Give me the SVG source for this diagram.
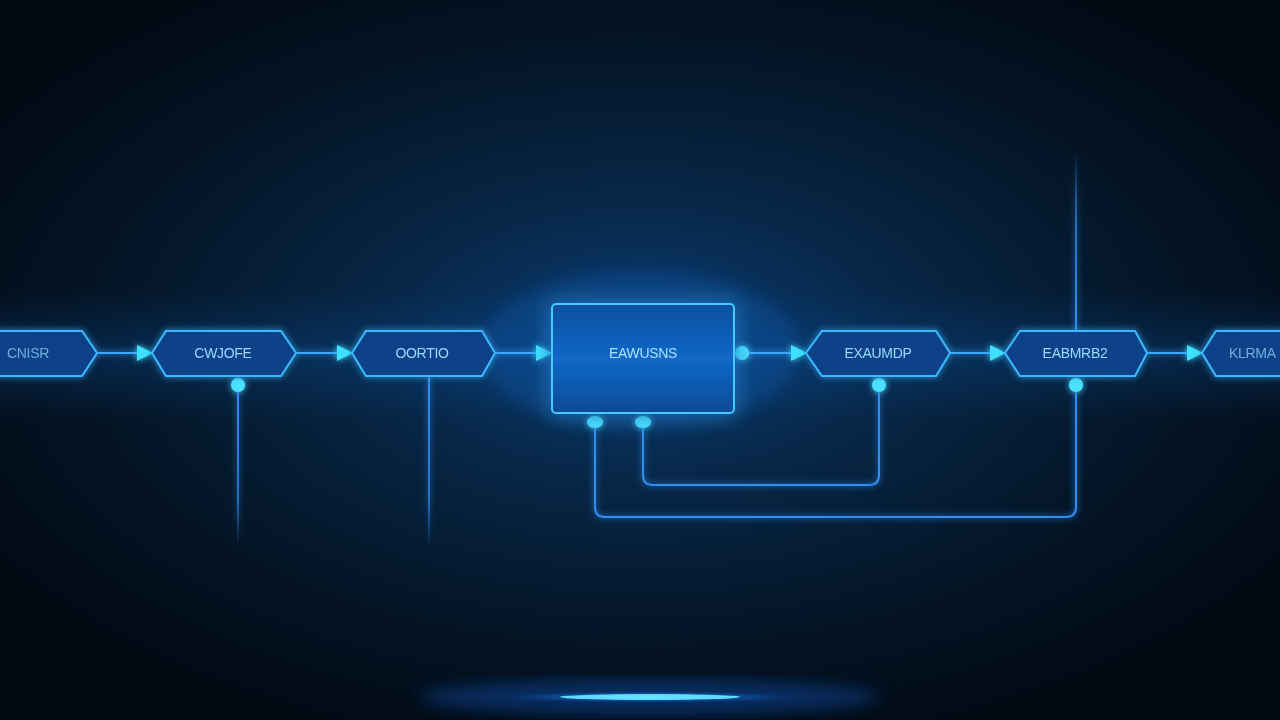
<svg xmlns="http://www.w3.org/2000/svg" width="1280" height="720" viewBox="0 0 1280 720">
<defs>
<radialGradient id="bg" cx="640" cy="340" r="760" gradientUnits="userSpaceOnUse" gradientTransform="translate(640 340) scale(1 0.55) translate(-640 -340)">
<stop offset="0" stop-color="#0b3d74"/>
<stop offset="0.35" stop-color="#072646"/>
<stop offset="0.7" stop-color="#041527"/>
<stop offset="1" stop-color="#020a14"/>
</radialGradient>
<linearGradient id="band" x1="0" y1="0" x2="0" y2="1">
<stop offset="0" stop-color="#0a4a90" stop-opacity="0"/>
<stop offset="0.5" stop-color="#0a4a90" stop-opacity="0.35"/>
<stop offset="1" stop-color="#0a4a90" stop-opacity="0"/>
</linearGradient>
<linearGradient id="rectFill" x1="0" y1="0" x2="0" y2="1">
<stop offset="0" stop-color="#0b4f9e"/>
<stop offset="0.5" stop-color="#1268c8"/>
<stop offset="1" stop-color="#0a4a96"/>
</linearGradient>
<linearGradient id="fade2" gradientUnits="userSpaceOnUse" x1="0" y1="385" x2="0" y2="545">
<stop offset="0" stop-color="#2f8ff0" stop-opacity="1"/>
<stop offset="0.7" stop-color="#2f8ff0" stop-opacity="0.7"/>
<stop offset="1" stop-color="#2f8ff0" stop-opacity="0"/>
</linearGradient>
<linearGradient id="fade3" gradientUnits="userSpaceOnUse" x1="0" y1="376" x2="0" y2="548">
<stop offset="0" stop-color="#2f8ff0" stop-opacity="1"/>
<stop offset="0.7" stop-color="#2f8ff0" stop-opacity="0.7"/>
<stop offset="1" stop-color="#2f8ff0" stop-opacity="0"/>
</linearGradient>
<linearGradient id="fadeUp" gradientUnits="userSpaceOnUse" x1="0" y1="331" x2="0" y2="150">
<stop offset="0" stop-color="#2f8ff0" stop-opacity="1"/>
<stop offset="0.6" stop-color="#2f8ff0" stop-opacity="0.7"/>
<stop offset="1" stop-color="#2f8ff0" stop-opacity="0"/>
</linearGradient>
<radialGradient id="floor" cx="0.5" cy="0.5" r="0.5">
<stop offset="0" stop-color="#3ad0ff" stop-opacity="1"/>
<stop offset="0.4" stop-color="#1a90ff" stop-opacity="0.6"/>
<stop offset="1" stop-color="#0a50c0" stop-opacity="0"/>
</radialGradient>
<filter id="glow" x="-50%" y="-50%" width="200%" height="200%">
<feGaussianBlur stdDeviation="3" result="b"/>
<feMerge><feMergeNode in="b"/><feMergeNode in="SourceGraphic"/></feMerge>
</filter>
<filter id="bigglow" x="-50%" y="-50%" width="200%" height="200%">
<feGaussianBlur stdDeviation="10" result="b"/>
<feMerge><feMergeNode in="b"/><feMergeNode in="SourceGraphic"/></feMerge>
</filter>
<filter id="blur8"><feGaussianBlur stdDeviation="8"/></filter>
<marker id="arr" markerWidth="16" markerHeight="16" refX="15" refY="8" orient="auto" markerUnits="userSpaceOnUse">
<path d="M0,0 L16,8 L0,16 Z" fill="#3ee0ff"/>
</marker>
<style>
.hex{fill:#0c4388;stroke:#3cb8ff;stroke-width:2;}
.lbl{font-family:"Liberation Sans",Arial,sans-serif;font-size:14px;fill:#9ad8ff;text-anchor:middle;dominant-baseline:central;letter-spacing:-0.3px;}
.flow{stroke:#3aa8ff;stroke-width:2;fill:none;}
.wire{stroke:#2f8ff0;stroke-width:2;fill:none;}
.dot{fill:#4ae0ff;}
</style>
</defs>
<rect width="1280" height="720" fill="url(#bg)"/>
<rect x="0" y="290" width="1280" height="130" fill="url(#band)"/>
<ellipse cx="640" cy="350" rx="160" ry="80" fill="#0d5ab0" opacity="0.35" filter="url(#blur8)"/>

<g id="connectors" filter="url(#glow)">
<line class="flow" x1="97" y1="353" x2="152" y2="353" marker-end="url(#arr)"/>
<line class="flow" x1="296" y1="353" x2="352" y2="353" marker-end="url(#arr)"/>
<line class="flow" x1="495" y1="353" x2="551" y2="353" marker-end="url(#arr)"/>
<line class="flow" x1="742" y1="353" x2="806" y2="353" marker-end="url(#arr)"/>
<line class="flow" x1="950" y1="353" x2="1005" y2="353" marker-end="url(#arr)"/>
<line class="flow" x1="1147" y1="353" x2="1202" y2="353" marker-end="url(#arr)"/>
<circle class="dot" cx="742" cy="353" r="7"/>
<path d="M238,385 V545" stroke="url(#fade2)" stroke-width="2" fill="none"/>
<path d="M429,376 V548" stroke="url(#fade3)" stroke-width="2" fill="none"/>
<path d="M1076,150 V331" stroke="url(#fadeUp)" stroke-width="2" fill="none"/>
<path class="wire" d="M879,385 V475 Q879,485 869,485 H653 Q643,485 643,475 V422"/>
<path class="wire" d="M1076,385 V507 Q1076,517 1066,517 H605 Q595,517 595,507 V422"/>
<circle class="dot" cx="238" cy="385" r="7"/>
<circle class="dot" cx="879" cy="385" r="7"/>
<circle class="dot" cx="1076" cy="385" r="7"/>
<ellipse class="dot" cx="595" cy="422" rx="8" ry="6"/>
<ellipse class="dot" cx="643" cy="422" rx="8" ry="6"/>
</g>

<g id="node1" filter="url(#glow)">
<polygon class="hex" points="-20,331 82,331 97,353 82,376 -20,376"/>
<text class="lbl" x="28" y="353" fill-opacity="0.7">CNISR</text>
</g>
<g id="node2" filter="url(#glow)">
<polygon class="hex" points="152,353 166,331 281,331 296,353 281,376 166,376"/>
<text class="lbl" x="223" y="353">CWJOFE</text>
</g>
<g id="node3" filter="url(#glow)">
<polygon class="hex" points="352,353 366,331 482,331 495,353 482,376 366,376"/>
<text class="lbl" x="422" y="353">OORTIO</text>
</g>
<g id="node4" filter="url(#bigglow)">
<rect x="552" y="304" width="182" height="109" rx="4" fill="url(#rectFill)" stroke="#46c8ff" stroke-width="2"/>
<text class="lbl" x="643" y="353" style="fill:#a8e0ff">EAWUSNS</text>
</g>
<g id="node5" filter="url(#glow)">
<polygon class="hex" points="806,353 822,331 936,331 950,353 936,376 822,376"/>
<text class="lbl" x="878" y="353">EXAUMDP</text>
</g>
<g id="node6" filter="url(#glow)">
<polygon class="hex" points="1005,353 1020,331 1135,331 1147,353 1135,376 1020,376"/>
<text class="lbl" x="1075" y="353">EABMRB2</text>
</g>
<g id="node7" filter="url(#glow)">
<polygon class="hex" points="1202,353 1216,331 1300,331 1300,376 1216,376"/>
<text class="lbl" x="1229" y="353" style="text-anchor:start" fill-opacity="0.7">KLRMA</text>
</g>

<g id="floorglow">
<ellipse cx="650" cy="697" rx="230" ry="18" fill="#0a4aa0" opacity="0.5" filter="url(#blur8)"/>
<ellipse cx="650" cy="697" rx="150" ry="6" fill="url(#floor)"/>
<ellipse cx="650" cy="697" rx="90" ry="3" fill="#6ae8ff" opacity="0.9"/>
</g>
</svg>
